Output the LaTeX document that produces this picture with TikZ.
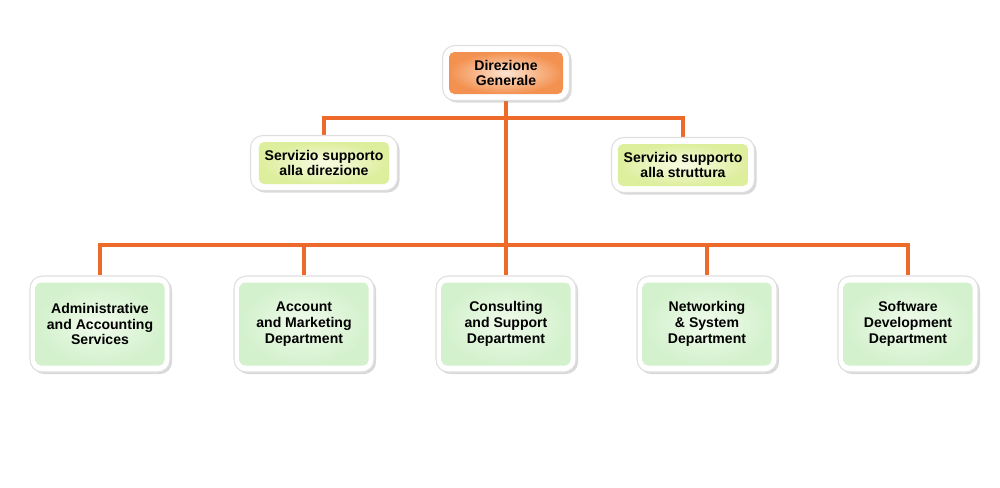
\documentclass[tikz,border=0pt]{standalone}
\usepackage{fontspec}
\setmainfont{Liberation Sans}
\usetikzlibrary{shadows,backgrounds}
\definecolor{ln}{HTML}{EE6A2A}
\definecolor{gO}{HTML}{D3F1CC}
\definecolor{gI}{HTML}{F0FBEC}
\definecolor{yO}{HTML}{DDEE9C}
\definecolor{yI}{HTML}{F8FBE4}
\definecolor{oO}{HTML}{F39150}
\definecolor{oI}{HTML}{FDE3CF}
\tikzset{
  frame/.style={draw=gray!25, line width=0.6pt, fill=white, rounded corners=7pt, drop shadow={opacity=0.3,shadow xshift=1.2pt,shadow yshift=-1.2pt}},
  inner/.style={rounded corners=3pt, align=center, font=\bfseries\fontsize{8}{9}\selectfont, text=black},
  green/.style={inner, inner color=gI, outer color=gO},
  yel/.style={inner, inner color=yI, outer color=yO},
  ora/.style={inner, inner color=oI, outer color=oO},
  conn/.style={draw=ln, line width=2.2pt}
}
\begin{document}
\begin{tikzpicture}[x=0.02cm,y=-0.02cm]
\useasboundingbox (0,0) rectangle (1000,487);
\coordinate (t1) at (506,118);
\coordinate (t2) at (506,245);
\node[frame, minimum width=127*0.02cm, minimum height=55*0.02cm] (fg) at (506,73) {};
\node[frame, minimum width=147*0.02cm, minimum height=55*0.02cm] (fs1) at (324,163) {};
\node[frame, minimum width=143*0.02cm, minimum height=55*0.02cm] (fs2) at (683,165) {};
\foreach \n/\x in {a/100,b/304,c/506,d/707,e/908}{
  \node[frame, minimum width=140*0.02cm, minimum height=96*0.02cm] (f\n) at (\x,324) {};
}
\begin{scope}[on background layer]
\draw[conn] (fg.south) -- (fc.north);
\draw[conn] (fs1.north) |- (t1) -| (fs2.north);
\draw[conn] (fa.north) |- (t2) -| (fe.north);
\draw[conn] (fb.north) -- (fb.north |- t2);
\draw[conn] (fd.north) -- (fd.north |- t2);
\end{scope}
\node[ora, minimum width=114*0.02cm, minimum height=42*0.02cm] (g) at (506,73) {Direzione\\Generale};
\node[yel, minimum width=129*0.02cm, minimum height=42*0.02cm] (s1) at (324,163) {Servizio supporto\\alla direzione};
\node[yel, minimum width=128*0.02cm, minimum height=42*0.02cm] (s2) at (683,165) {Servizio supporto\\alla struttura};
\node[green, minimum width=129*0.02cm, minimum height=83*0.02cm] (a) at (100,324) {Administrative\\and Accounting\\Services};
\node[green, minimum width=129*0.02cm, minimum height=83*0.02cm] (b) at (304,324) {Account\\and Marketing\\Department};
\node[green, minimum width=129*0.02cm, minimum height=83*0.02cm] (c) at (506,324) {Consulting\\and Support\\Department};
\node[green, minimum width=129*0.02cm, minimum height=83*0.02cm] (d) at (707,324) {Networking\\\& System\\Department};
\node[green, minimum width=129*0.02cm, minimum height=83*0.02cm] (e) at (908,324) {Software\\Development\\Department};
\end{tikzpicture}
\end{document}
